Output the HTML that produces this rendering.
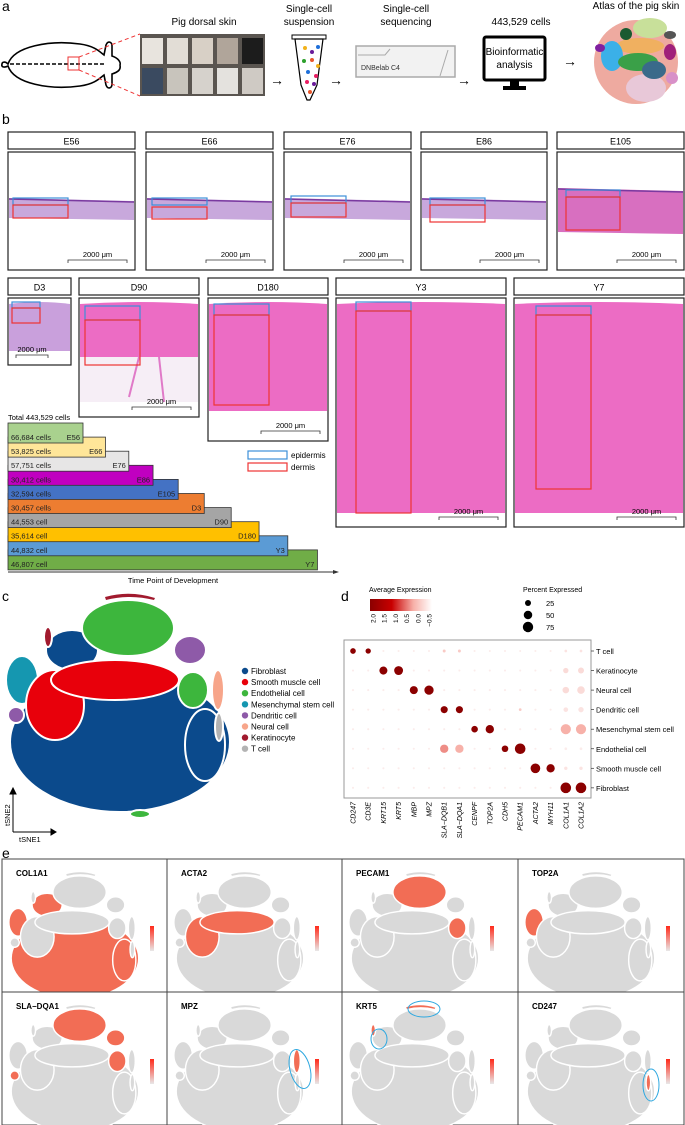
<!DOCTYPE html>
<html><head><meta charset="utf-8">
<style>
body{margin:0;background:#fff;font-family:"Liberation Sans",sans-serif;}
#root{position:relative;width:685px;height:1125px;overflow:hidden;}
svg text{font-family:"Liberation Sans",sans-serif;}
</style></head>
<body>
<div id="root">
<svg id="fig" width="685" height="1125" viewBox="0 0 685 1125" xmlns="http://www.w3.org/2000/svg">
<defs>
<linearGradient id="expGrad" x1="0" x2="1" y1="0" y2="0">
<stop offset="0" stop-color="#8b0000"/><stop offset="0.35" stop-color="#c80000"/><stop offset="0.7" stop-color="#f7b0a8"/><stop offset="1" stop-color="#ffffff"/>
</linearGradient>
<linearGradient id="cbar" x1="0" x2="0" y1="0" y2="1">
<stop offset="0" stop-color="#ff2a1a"/><stop offset="1" stop-color="#e8e8e8"/>
</linearGradient>
</defs>

<!-- Panel a -->
<g>
<text x="2" y="11" font-size="14">a</text>
<g fill="none" stroke="#000" stroke-width="1.6">
<path d="M8,64 C14,46 50,40 80,44 C95,46 100,52 104,55 L106,45 C108,40 112,42 112,46 L112,56 C118,58 121,62 120,65 C121,70 118,72 112,74 L112,84 C112,88 108,90 106,85 L104,75 C100,78 95,84 80,86 C50,90 14,84 8,66 C4,68 1,67 2,64 C2,62 5,61 8,64 Z"/>
<line x1="10" y1="64" x2="104" y2="64" stroke-dasharray="4,2"/>
</g>
<rect x="68" y="57" width="11" height="13" fill="none" stroke="#e33" stroke-width="1"/>
<line x1="79" y1="57" x2="140" y2="34" stroke="#e33" stroke-dasharray="4,3"/>
<line x1="79" y1="70" x2="140" y2="96" stroke="#e33" stroke-dasharray="4,3"/>
<text x="204" y="25" font-size="10" text-anchor="middle">Pig dorsal skin</text>
<g>
<rect x="140" y="34" width="125" height="62" fill="#5a5550"/>
<rect x="142" y="38" width="21" height="26" fill="#e8e4de"/><rect x="167" y="38" width="21" height="26" fill="#e2ddd6"/><rect x="192" y="38" width="21" height="26" fill="#d8d0c6"/><rect x="217" y="38" width="21" height="26" fill="#b0a59a"/><rect x="242" y="38" width="21" height="26" fill="#1c1c1c"/>
<rect x="142" y="68" width="21" height="26" fill="#3a4a60"/><rect x="167" y="68" width="21" height="26" fill="#c8c4bc"/><rect x="192" y="68" width="21" height="26" fill="#d6d2cc"/><rect x="217" y="68" width="21" height="26" fill="#e4e2de"/><rect x="242" y="68" width="21" height="26" fill="#cfcac4"/>
</g>
<text x="270" y="85" font-size="14">→</text>
<text x="309" y="12" font-size="10" text-anchor="middle"><tspan x="309">Single-cell</tspan><tspan x="309" dy="13">suspension</tspan></text>
<g>
<rect x="292" y="35" width="34" height="4" fill="#fff" stroke="#000"/>
<path d="M295,39 L323,39 L317,85 L310,100 L307,100 L301,85 Z" fill="#fff" stroke="#000" stroke-width="1.2"/>
<circle cx="305" cy="48" r="2" fill="#f2b21a"/><circle cx="312" cy="52" r="2" fill="#6a1b9a"/><circle cx="318" cy="47" r="2" fill="#1e6fd9"/><circle cx="304" cy="61" r="2" fill="#2ca02c"/><circle cx="312" cy="60" r="2" fill="#e8552a"/><circle cx="318" cy="66" r="2" fill="#f2b21a"/><circle cx="308" cy="72" r="2" fill="#1e6fd9"/><circle cx="316" cy="76" r="2" fill="#e91e63"/><circle cx="307" cy="82" r="2" fill="#e91e63"/><circle cx="314" cy="84" r="2" fill="#6a1b9a"/><circle cx="310" cy="92" r="2" fill="#e8552a"/>
</g>
<text x="329" y="85" font-size="14">→</text>
<text x="406" y="12" font-size="10" text-anchor="middle"><tspan x="406">Single-cell</tspan><tspan x="406" dy="13">sequencing</tspan></text>
<g>
<rect x="356" y="46" width="99" height="31" fill="#f2f2f2" stroke="#aaa" stroke-width="1.5"/>
<path d="M358,55 L385,55 L390,49" fill="none" stroke="#aaa"/>
<path d="M448,50 L440,76" fill="none" stroke="#aaa"/>
<text x="361" y="70" font-size="7" fill="#333">DNBelab C4</text>
</g>
<text x="457" y="85" font-size="14">→</text>
<text x="521" y="25" font-size="10" text-anchor="middle">443,529 cells</text>
<g>
<rect x="484" y="37" width="61" height="43" fill="#fff" stroke="#000" stroke-width="3" rx="2"/>
<rect x="510" y="80" width="9" height="7" fill="#000"/><rect x="503" y="86" width="23" height="4" fill="#000"/>
<text x="514.5" y="55" font-size="10" text-anchor="middle">Bioinformatic</text>
<text x="514.5" y="68" font-size="10" text-anchor="middle">analysis</text>
</g>
<text x="563" y="66" font-size="14">→</text>
<text x="636" y="9" font-size="10" text-anchor="middle">Atlas of the pig skin</text>
<g>
<circle cx="636" cy="62" r="42" fill="#eeaaa0"/>
<ellipse cx="646" cy="88" rx="20" ry="14" fill="#e8c8d8"/>
<ellipse cx="650" cy="28" rx="17" ry="10" fill="#c8e09a"/>
<ellipse cx="640" cy="46" rx="24" ry="8" fill="#f0b060"/>
<ellipse cx="612" cy="56" rx="11" ry="15" fill="#3bb0e8"/>
<ellipse cx="638" cy="62" rx="20" ry="9" fill="#3aa048"/>
<ellipse cx="654" cy="70" rx="12" ry="9" fill="#3a6a8a"/>
<ellipse cx="670" cy="52" rx="6" ry="8" fill="#a0207a"/>
<ellipse cx="626" cy="34" rx="6" ry="6" fill="#1a5a30"/>
<ellipse cx="672" cy="78" rx="6" ry="6" fill="#d890c8"/>
<ellipse cx="600" cy="48" rx="5" ry="4" fill="#8020a0"/>
<ellipse cx="670" cy="35" rx="6" ry="4" fill="#555"/>
</g>
</g>

<!-- Panel b -->
<g id="panelB">
<text x="2" y="124" font-size="14">b</text>
</g>
<g id="barChart"></g>
<g>
<rect x="248" y="451" width="39" height="8" fill="none" stroke="#3c8fd8" stroke-width="1.2"/>
<text x="291" y="458" font-size="8">epidermis</text>
<rect x="248" y="463" width="39" height="8" fill="none" stroke="#e33" stroke-width="1.2"/>
<text x="291" y="470" font-size="8">dermis</text>
</g>

<!-- Panel c -->
<g id="panelC">
<text x="2" y="601" font-size="14">c</text>
<g id="tsneMain"></g>
<g stroke="#000" stroke-width="1">
<line x1="13" y1="832" x2="13" y2="792"/><polygon points="10,794 16,794 13,788" fill="#000"/>
<line x1="13" y1="832" x2="53" y2="832"/><polygon points="51,829 51,835 56,832" fill="#000"/>
</g>
<text x="10" y="826" font-size="7.5" transform="rotate(-90 10 826)">tSNE2</text>
<text x="19" y="842" font-size="7.5">tSNE1</text>
<g id="cLegend"></g>
</g>

<!-- Panel d -->
<g id="panelD">
<text x="341" y="601" font-size="14">d</text>
<text x="369" y="592" font-size="7">Average Expression</text>
<rect x="370" y="599" width="62" height="12" fill="url(#expGrad)"/>
<g id="cbarTicks"></g>
<text x="523" y="592" font-size="7">Percent Expressed</text>
<g id="pctLegend"></g>
<rect x="344" y="640" width="247" height="158" fill="#fff" stroke="#999" stroke-width="1"/>
<g id="dotplot"></g>
</g>

<!-- Panel e -->
<g id="panelE">
<text x="2" y="858" font-size="14">e</text>
<g id="tiles"></g>
</g>
</svg>
</div>

<script>
var NS='http://www.w3.org/2000/svg';
function mk(tag,attrs,parent){var e=document.createElementNS(NS,tag);for(var k in attrs)e.setAttribute(k,attrs[k]);if(parent)parent.appendChild(e);return e;}

/* ---------- Panel b: histology tiles ---------- */
var histTitles=['E56','E66','E76','E86','E105','D3','D90','D180','Y3','Y7'];
var pb=document.getElementById('panelB');
var tilesGeo=[[8,135,132,152,270],[146,273,132,152,270],[284,411,132,152,270],[421,547,132,152,270],[557,684,132,152,270],
[8,71,278,298,365],[79,199,278,298,417],[208,328,278,298,441],[336,506,278,298,527],[514,684,278,298,527]];
var boxesEpi=[[13,68,198,205],[152,207,198,205],[291,346,196,203],[430,485,198,205],[566,620,190,197],[12,40,302,308],[85,140,306,320],[214,269,304,315],[356,411,302,311],[536,591,306,315]];
var boxesDer=[[13,68,205,218],[152,207,207,219],[291,346,203,217],[430,485,205,222],[566,620,197,230],[12,40,308,323],[85,140,320,365],[214,269,315,405],[356,411,311,513],[536,591,315,489]];
for(var i=0;i<tilesGeo.length;i++){
  var g=tilesGeo[i];var x0=g[0],x1=g[1],ty=g[2],iy=g[3],iy2=g[4];
  var grp=mk('g',{},pb);
  
  
  mk('rect',{x:x0,y:ty,width:x1-x0,height:17,fill:'#fff',stroke:'#222','stroke-width':1.2},grp);
  var t=mk('text',{x:(x0+x1)/2,y:ty+12.5,'font-size':9,'text-anchor':'middle'},grp);t.textContent=histTitles[i];
  mk('rect',{x:x0,y:iy,width:x1-x0,height:iy2-iy,fill:'#fff',stroke:'#222','stroke-width':1.2},grp);
  if(i<5){
    var by=i==4?188:198;var bh=i==4?46:22;
    mk('path',{d:'M'+(x0+1)+','+by+' L'+(x1-1)+','+(by+3)+' L'+(x1-1)+','+(by+bh)+' L'+(x0+1)+','+(by+bh-2)+' Z',fill:i==4?'#d86fc0':'#c8a8dc'},grp);
    mk('line',{x1:x0+1,y1:by+1,x2:x1-1,y2:by+4,stroke:'#7a3aa0','stroke-width':1.5},grp);
  } else {
    var fillc=i==5?'#c9a0dc':'#ec6cc4';
    var bottom=i==6?iy2-60:(i==7?iy2-30:iy2-14);
    mk('path',{d:'M'+(x0+1)+','+(iy+6)+' Q'+((x0+x1)/2)+','+(iy+2)+' '+(x1-1)+','+(iy+6)+' L'+(x1-1)+','+bottom+' L'+(x0+1)+','+bottom+' Z',fill:fillc},grp);
    if(i==6){mk('rect',{x:x0+1,y:iy2-60,width:x1-x0-2,height:45,fill:'#f6eef6'},grp);
      mk('path',{d:'M'+(x0+60)+','+(iy2-60)+' l-10,40 M'+(x0+80)+','+(iy2-60)+' l5,45',stroke:'#e07ac8','stroke-width':2,fill:'none'},grp);}
  }
  var e=boxesEpi[i];mk('rect',{x:e[0],y:e[2],width:e[1]-e[0],height:e[3]-e[2],fill:'none',stroke:'#3c8fd8','stroke-width':1.2},grp);
  var d=boxesDer[i];mk('rect',{x:d[0],y:d[2],width:d[1]-d[0],height:d[3]-d[2],fill:'none',stroke:'#e33','stroke-width':1.2},grp);
  var sbR=x1-8,sbL=sbR-Math.min(59,(x1-x0)-16),sbY=iy2-10;
  if(i==5){sbL=x0+8;sbR=x0+40;}
  mk('path',{d:'M'+sbL+','+(sbY+3)+' L'+sbL+','+sbY+' L'+sbR+','+sbY+' L'+sbR+','+(sbY+3),stroke:'#333',fill:'none','stroke-width':0.8},grp);
  var st=mk('text',{x:(sbL+sbR)/2,y:sbY-3,'font-size':7.5,'text-anchor':'middle'},grp);st.textContent='2000 μm';
}

/* ---------- Panel b: staircase bar chart ---------- */
var stageLabels=['E56','E66','E76','E86','E105','D3','D90','D180','Y3','Y7'];
var stageCounts=['66,684 cells','53,825 cells','57,751 cells','30,412 cells','32,594 cells','30,457 cells','44,553 cell','35,614 cell','44,832 cell','46,807 cell'];
var stageColors=['#a9d18e','#ffe699','#e7e6e6','#c000c0','#4472c4','#ed7d31','#a5a5a5','#ffc000','#5b9bd5','#70ad47'];
var bc=document.getElementById('barChart');
function stepX(i){return 83+i*22+i*i*0.45;}
function stepY(i){return 423+i*14.1;}
var tt=mk('text',{x:8,y:420,'font-size':7.5},bc);tt.textContent='Total  443,529 cells';

for(var i=stageLabels.length-1;i>=0;i--){
  var r=mk('rect',{x:8,y:stepY(i),width:stepX(i)-8,height:20,fill:stageColors[i],stroke:'#333','stroke-width':0.8},bc);
  
  
  var tc=mk('text',{x:11,y:stepY(i)+17,'font-size':7.5,fill:'#222'},bc);tc.textContent=stageCounts[i];
  var tl=mk('text',{x:stepX(i)-3,y:stepY(i)+17,'font-size':7.5,'text-anchor':'end',fill:'#222'},bc);tl.textContent=stageLabels[i];
}
mk('line',{x1:8,y1:572,x2:335,y2:572,stroke:'#333','stroke-width':1},bc);
mk('polygon',{points:'333,570 333,574 339,572',fill:'#333'},bc);
var xt=mk('text',{x:173,y:583,'font-size':7.5,'text-anchor':'middle'},bc);xt.textContent='Time Point of Development';


/* ---------- t-SNE shapes ---------- */
var cellTypes=['Fibroblast','Smooth muscle cell','Endothelial cell','Mesenchymal stem cell','Dendritic cell','Neural cell','Keratinocyte','T cell'];
var cellColors=['#0b4a8c','#e8000b','#3db63d','#1597b0','#8e5aa8','#f7a58a','#a11a2e','#b3b3b3'];
var clusterKey=['fib','smc','endo','msc','dc','neural','kerat','tcell'];
function drawTsne(parent,colorFor,sw){
  function el(cx,cy,rx,ry,key){mk('ellipse',{cx:cx,cy:cy,rx:rx,ry:ry,fill:colorFor(key),stroke:'#fff','stroke-width':sw},parent);}
  el(22,680,16,24,'msc');el(190,725,24,32,'msc');el(150,792,15,18,'msc');
  el(120,742,110,70,'fib');el(72,650,26,20,'fib');el(205,745,20,36,'fib');
  el(55,705,29,35,'smc');el(115,680,64,20,'smc');
  el(128,628,46,28,'endo');el(193,690,15,18,'endo');el(140,814,10,4,'endo');
  el(190,650,16,14,'dc');el(16,715,8,8,'dc');
  el(218,690,6,20,'neural');
  mk('path',{d:'M105,597 Q130,590 155,598 L154,600 Q130,594 106,600 Z',fill:colorFor('kerat')},parent);
  el(48,637,4,10,'kerat');
  el(219,727,4,14,'tcell');
}
var tm=document.getElementById('tsneMain');
drawTsne(tm,function(k){return cellColors[clusterKey.indexOf(k)];},2);
var cl=document.getElementById('cLegend');
for(var i=0;i<cellTypes.length;i++){
  var y=674+i*11.1;
  var lg=mk('g',{},cl);
  
  
  mk('circle',{cx:245,cy:y-3,r:3.2,fill:cellColors[i]},lg);
  var t=mk('text',{x:251,y:y,'font-size':8},lg);t.textContent=cellTypes[i];
}

/* ---------- Panel d: dot plot ---------- */
var genes=['CD247','CD3E','KRT15','KRT5','MBP','MPZ','SLA\u2212DQB1','SLA\u2212DQA1','CENPF','TOP2A','CDH5','PECAM1','ACTA2','MYH11','COL1A1','COL1A2'];
var rowsD=['T cell','Keratinocyte','Neural cell','Dendritic cell','Mesenchymal stem cell','Endothelial cell','Smooth muscle cell','Fibroblast'];
var expT=[2.2,2.2,-0.4,-0.4,-0.4,-0.4,0.0,0.0,-0.4,-0.4,-0.4,-0.4,-0.4,-0.4,-0.3,-0.3];
var pctT=[22,20,3,3,3,3,6,6,3,3,3,3,3,3,5,5];
var expK=[-0.4,-0.4,2.2,2.2,-0.4,-0.4,-0.4,-0.4,-0.4,-0.4,-0.4,-0.4,-0.4,-0.4,-0.2,-0.2];
var pctK=[3,3,45,55,3,3,3,3,3,3,3,3,3,3,20,25];
var expN=[-0.4,-0.4,-0.4,-0.4,2.2,2.2,-0.4,-0.4,-0.4,-0.4,-0.4,-0.4,-0.4,-0.4,-0.2,-0.2];
var pctN=[3,3,3,3,45,60,3,3,3,3,3,3,3,3,30,40];
var expDC=[-0.4,-0.4,-0.4,-0.4,-0.4,-0.4,2.2,2.2,-0.4,-0.4,-0.4,0.0,-0.4,-0.4,-0.3,-0.3];
var pctDC=[3,3,3,3,3,3,35,35,3,3,3,5,3,3,15,20];
var expM=[-0.4,-0.4,-0.4,-0.4,-0.4,-0.4,-0.4,-0.4,2.2,2.2,-0.4,-0.4,-0.4,-0.4,0.3,0.3];
var pctM=[3,3,3,3,3,3,3,3,30,48,3,3,3,3,72,72];
var expE=[-0.4,-0.4,-0.4,-0.4,-0.4,-0.4,0.5,0.3,-0.4,-0.4,2.2,2.2,-0.4,-0.4,-0.4,-0.4];
var pctE=[3,3,3,3,3,3,48,48,3,3,30,78,3,3,5,5];
var expS=[-0.4,-0.4,-0.4,-0.4,-0.4,-0.4,-0.4,-0.4,-0.4,-0.4,-0.4,-0.4,2.2,2.2,-0.3,-0.3];
var pctS=[3,3,3,3,3,3,3,3,3,3,3,3,65,48,8,8];
var expF=[-0.4,-0.4,-0.4,-0.4,-0.4,-0.4,-0.4,-0.4,-0.4,-0.4,-0.4,-0.4,-0.4,-0.4,2.2,2.2];
var pctF=[3,3,3,3,3,3,3,3,3,3,3,3,3,3,78,78];
var expRows=[expT,expK,expN,expDC,expM,expE,expS,expF];
var pctRows=[pctT,pctK,pctN,pctDC,pctM,pctE,pctS,pctF];
var cbTicks=['2.0','1.5','1.0','0.5','0.0','\u22120.5'];
var pctTicks=[25,50,75];

function xGene(i){return 353+i*15.2;}
function yRow(j){return 651+j*19.55;}
function rScale(p){return Math.sqrt(p/100)*6;}
function colorExp(v){
  var t=Math.max(0,Math.min(1,(2.2-v)/2.7));
  var stops=[[0,[139,0,0]],[0.35,[200,0,0]],[0.7,[247,176,168]],[1,[252,244,244]]];
  for(var k=0;k<stops.length-1;k++){if(t<=stops[k+1][0]){var a=stops[k],b=stops[k+1];var f=(t-a[0])/(b[0]-a[0]);
    var c=a[1].map(function(v,ii){return Math.round(v+(b[1][ii]-v)*f);});return 'rgb('+c.join(',')+')';}}
  return 'rgb(252,244,244)';
}
var dp=document.getElementById('dotplot');
for(var j=0;j<rowsD.length;j++){
  for(var i=0;i<genes.length;i++){
    var c=mk('circle',{cx:xGene(i),cy:yRow(j),r:Math.max(0.8,rScale(pctRows[j][i])),fill:colorExp(expRows[j][i])},dp);
    
    
  }
  mk('line',{x1:591,y1:yRow(j),x2:594,y2:yRow(j),stroke:'#333','stroke-width':0.7},dp);
  var rl=mk('text',{x:596,y:yRow(j)+3,'font-size':7.5},dp);rl.textContent=rowsD[j];
  
  
}
for(var i=0;i<genes.length;i++){
  var gl=mk('text',{x:xGene(i)+2.5,y:802,'font-size':7,'font-style':'italic','text-anchor':'end',transform:'rotate(-90 '+(xGene(i)+2.5)+' 802)'},dp);
  gl.textContent=genes[i];
  
  
}
var cbt=document.getElementById('cbarTicks');
for(var k=0;k<cbTicks.length;k++){
  var xx=373+k*11.2;
  var t=mk('text',{x:xx+2.5,y:614,'font-size':6.5,'text-anchor':'end',transform:'rotate(-90 '+(xx+2.5)+' 614)'},cbt);t.textContent=cbTicks[k];
}
var pl=document.getElementById('pctLegend');
for(var k=0;k<pctTicks.length;k++){
  var yy=603+k*12;
  mk('circle',{cx:528,cy:yy,r:rScale(pctTicks[k]),fill:'#000'},pl);
  var t=mk('text',{x:546,y:yy+3,'font-size':7.5},pl);t.textContent=pctTicks[k];
}

/* ---------- Panel e: feature plots ---------- */
var featGenes=['COL1A1','ACTA2','PECAM1','TOP2A','SLA\u2212DQA1','MPZ','KRT5','CD247'];
var featClusters=[['fib','msc'],['smc'],['endo'],['msc'],['endo','dc'],['neural'],['kerat'],['tcell']];
var colX=[2,167,342,518,684];
var rowY=[859,992,1125];
var tiles=document.getElementById('tiles');
for(var n=0;n<8;n++){
  var ci=n%4,ri=Math.floor(n/4);
  var x0=colX[ci],x1=colX[ci+1],y0=rowY[ri],y1=rowY[ri+1];
  var tg=mk('g',{},tiles);
  
  
  mk('rect',{x:x0,y:y0,width:x1-x0,height:y1-y0,fill:'#fff',stroke:'#444','stroke-width':1},tg);
  var s=0.58;
  var inner=mk('g',{transform:'translate('+(x0+8-8*s)+','+(y0+14-595*s)+') scale('+s+')'},tg);
  var hl=featClusters[n];
  drawTsne(inner,function(k){return hl.indexOf(k)>=0?'#f26d55':'#d9d9d9';},2.5);
  var lb=mk('text',{x:x0+14,y:y0+17,'font-size':8,'font-weight':'bold'},tg);lb.textContent=featGenes[n];
  mk('rect',{x:x0+148,y:y0+67,width:4,height:25,fill:'url(#cbar)'},tg);
  if(n==5){mk('ellipse',{cx:x0+133,cy:y0+77,rx:10,ry:20,fill:'none',stroke:'#2ea8e0','stroke-width':1,transform:'rotate(-15 '+(x0+133)+' '+(y0+77)+')'},tg);}
  if(n==6){mk('ellipse',{cx:x0+82,cy:y0+17,rx:16,ry:8,fill:'none',stroke:'#2ea8e0','stroke-width':1},tg);
           mk('ellipse',{cx:x0+37,cy:y0+47,rx:8,ry:10,fill:'none',stroke:'#2ea8e0','stroke-width':1},tg);}
  if(n==7){mk('ellipse',{cx:x0+133,cy:y0+93,rx:8,ry:16,fill:'none',stroke:'#2ea8e0','stroke-width':1},tg);}
}
</script>
</body></html>
